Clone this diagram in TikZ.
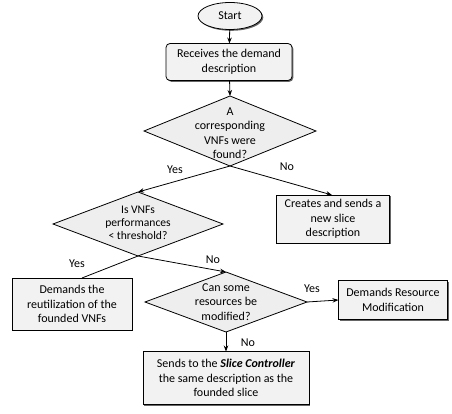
\documentclass[tikz,border=0pt]{standalone}
\usepackage{fontspec}
\setmainfont{Carlito}
\usetikzlibrary{shapes.geometric,shadows,arrows.meta}
\definecolor{boxfill}{HTML}{F2F2F2}
\definecolor{diafill}{HTML}{EEEEEE}
\begin{document}
\begin{tikzpicture}[x=1pt,y=-1pt,
  every node/.style={font=\fontsize{12}{14.5}\selectfont, align=center, inner sep=0pt, outer sep=0pt},
  shad/.style={drop shadow={shadow xshift=1.3pt, shadow yshift=-1.3pt, fill=black!60, opacity=1}},
  box/.style={draw=black, line width=0.8pt, fill=boxfill, shad},
  dia/.style={diamond, draw=black, line width=0.8pt, fill=diafill},
  lbl/.style={font=\fontsize{12}{14.5}\selectfont},
  conn/.style={draw=black, line width=0.8pt},
  arr/.style={conn, -{Stealth[length=6pt,width=4.5pt]}}]
\useasboundingbox (0,0) rectangle (452,414);

% nodes
\node[ellipse, box, minimum width=64pt, minimum height=27pt] (start) at (230,16) {Start};
\node[box, rounded corners=4pt, minimum width=126pt, minimum height=37pt] (recv) at (229,62) {Receives the demand\\description};

\node[dia, minimum width=172pt, minimum height=70pt] (d1) at (230,131) {};
\node (d1t) at (230,133) {A\\corresponding\\VNFs were\\found?};

\node[box, minimum width=113pt, minimum height=48pt] (create) at (333,219) {Creates and sends a\\new slice\\description};

\node[dia, minimum width=170pt, minimum height=64pt] (d2) at (138,224) {};
\node[font=\fontsize{11.6}{12.8}\selectfont] (d2t) at (138,223) {Is VNFs\\performances\\< threshold?};

\node[box, minimum width=120pt, minimum height=52pt] (reuse) at (72,304) {Demands the\\reutilization of the\\founded VNFs};

\node[dia, minimum width=162pt, minimum height=60pt] (d3) at (226,302) {};
\node (d3t) at (226,302) {Can some\\resources be\\modified?};

\node[box, minimum width=109pt, minimum height=39pt] (mod) at (393,300) {Demands Resource\\Modification};

\node[box, minimum width=166pt, minimum height=53pt] (send) at (226,378) {Sends to the \textbf{\textit{Slice Controller}}\\the same description as the\\founded slice};

% connectors
\draw[arr] (start) -- (recv);
\draw[arr] (recv) -- (d1.north);
\draw[arr] (d1.south) -- (d2.north);
\draw[arr] (d1.south) -- ([xshift=-1pt]create.north);
\draw[conn] (d2.south) -- ([xshift=10pt]reuse.north);
\draw[arr] (d2.south) -- (d3.north);
\draw[arr] (d3.east) -- (mod.west);
\draw[arr] (d3.south) -- (send.north);

% labels
\node[lbl] (l1) at (175,170) {Yes};
\node[lbl] (l2) at (287,167) {No};
\node[lbl] (l3) at (77,264) {Yes};
\node[lbl] (l4) at (213,260) {No};
\node[lbl] (l5) at (312,289) {Yes};
\node[lbl] (l6) at (248,343) {No};
\end{tikzpicture}
\end{document}
